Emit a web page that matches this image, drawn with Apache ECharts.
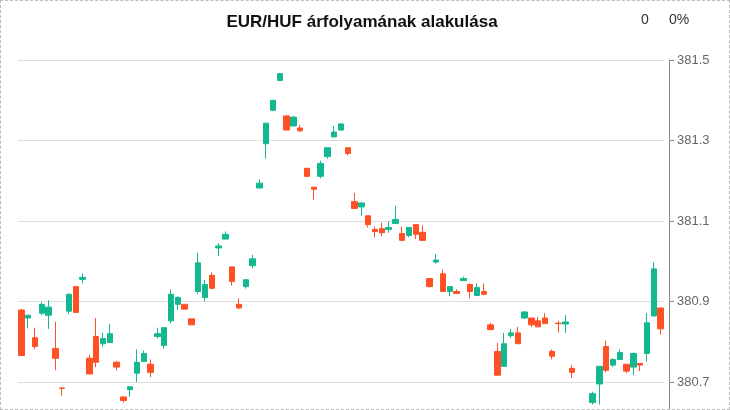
<!DOCTYPE html>
<html><head><meta charset="utf-8">
<script src="https://cdn.jsdelivr.net/npm/echarts@6/dist/echarts.min.js"></script>
<style>html,body{margin:0;padding:0;background:#fff;overflow:hidden}
#w{position:relative;width:728px;height:408px;overflow:hidden;border:1px dashed #bbb}
#c{position:absolute;left:-1px;top:-1px;width:730px;height:469px}</style>
</head><body><div id="w"><div id="c"></div></div>
<script>
const title = "EUR/HUF árfolyamának alakulása";
const yTicks = [380.7, 380.9, 381.1, 381.3, 381.5];
const openV = [380.879,380.859,380.810,380.871,380.866,380.783,380.685,380.876,380.937,380.955,
380.759,380.813,380.795,380.798,380.749,380.663,380.681,380.722,380.751,380.744,
380.813,380.791,380.852,380.893,380.893,380.857,380.925,380.910,380.965,381.033,
381.055,380.986,380.893,380.937,380.989,381.182,381.292,381.375,381.449,381.361,
381.336,381.331,381.231,381.184,381.211,381.260,381.309,381.326,381.282,381.148,
381.135,381.113,381.079,381.081,381.079,381.094,381.069,381.064,381.091,381.072,
380.957,380.998,380.969,380.925,380.925,380.952,380.942,380.915,380.925,380.842,
380.776,380.739,380.815,380.822,380.859,380.859,380.852,380.859,380.776,380.846,
380.844,380.734,'-','-',380.649,380.695,380.788,380.742,380.756,380.744,
380.737,380.746,380.771,380.864,380.884];
const closeV = [380.766,380.866,380.788,380.893,380.886,380.759,380.684,380.918,380.873,380.960,
380.720,380.749,380.808,380.820,380.737,380.654,380.688,380.749,380.771,380.724,
380.820,380.835,380.918,380.910,380.881,380.842,380.996,380.942,380.933,381.038,
381.067,380.950,380.884,380.954,381.006,381.194,381.343,381.400,381.466,381.326,
381.358,381.324,381.211,381.179,381.243,381.282,381.321,381.341,381.268,381.131,
381.145,381.091,381.074,381.071,381.084,381.104,381.052,381.084,381.067,381.052,
380.937,381.003,380.925,380.937,380.920,380.957,380.925,380.935,380.918,380.830,
380.717,380.795,380.822,380.795,380.874,380.842,380.837,380.845,380.764,380.845,
380.849,380.724,'-','-',380.671,380.739,380.729,380.756,380.773,380.727,
380.771,380.742,380.847,380.981,380.832];
const lowV = [380.766,380.833,380.781,380.866,380.832,380.729,380.666,380.869,380.873,380.945,
380.720,380.737,380.788,380.798,380.729,380.649,380.663,380.700,380.751,380.712,
380.808,380.783,380.845,380.879,380.881,380.842,380.918,380.901,380.930,381.013,
381.055,380.940,380.881,380.932,380.982,381.182,381.255,381.373,381.449,381.326,
381.336,381.321,381.209,381.153,381.206,381.255,381.309,381.326,381.263,381.131,
381.113,381.084,381.059,381.062,381.071,381.094,381.052,381.060,381.055,381.052,
380.935,380.994,380.925,380.913,380.920,380.952,380.908,380.915,380.915,380.830,
380.717,380.739,380.810,380.795,380.857,380.837,380.837,380.845,380.756,380.823,
380.822,380.710,'-','-',380.644,380.644,380.724,380.737,380.756,380.722,
380.717,380.727,380.751,380.864,380.818];
const highV = [380.881,380.866,380.835,380.898,380.903,380.849,380.687,380.920,380.937,380.969,
380.767,380.859,380.822,380.845,380.752,380.663,380.690,380.781,380.778,380.756,
380.835,380.835,380.930,380.913,380.893,380.857,381.021,380.954,380.972,381.045,
381.074,380.986,380.908,380.954,381.016,381.204,381.343,381.400,381.468,381.363,
381.361,381.339,381.231,381.184,381.250,381.282,381.336,381.343,381.282,381.170,
381.145,381.113,381.086,381.096,381.099,381.138,381.086,381.084,381.091,381.089,
380.957,381.018,380.979,380.937,380.930,380.962,380.945,380.945,380.945,380.847,
380.798,380.822,380.832,380.837,380.876,380.859,380.862,380.871,380.781,380.852,
380.866,380.742,'-','-',380.676,380.739,380.803,380.759,380.781,380.744,
380.773,380.746,380.871,380.998,380.884];
const categories = openV.map((_, i) => String(i + 1));

const data = openV.map((o, i) => o === '-' ? '-' : [o, closeV[i], lowV[i], highV[i]]);
const chart = echarts.init(document.getElementById('c'));
chart.setOption({
  animation: false,
  title: { text: title, left: 357, top: 9, textAlign: 'center',
    textStyle: { fontFamily: 'Liberation Sans, Arial', fontSize: 17, fontWeight: 'bold', color: '#111' } },
  graphic: [
    { type: 'text', left: 641, top: 13, style: { text: '0', font: '14px Liberation Sans, Arial', fill: '#333' } },
    { type: 'text', left: 669, top: 13, style: { text: '0%', font: '14px Liberation Sans, Arial', fill: '#333' } }
  ],
  grid: { left: 18, right: 66, top: 60, bottom: 0 },
  xAxis: { type: 'category', data: categories, show: false, boundaryGap: true },
  yAxis: { type: 'value', position: 'right', min: 380.5, max: 381.5, interval: 0.2, offset: 5,
    axisLine: { show: true, lineStyle: { color: '#888' } },
    axisTick: { show: true, length: 5, lineStyle: { color: '#888' } },
    axisLabel: { color: '#666', fontSize: 13, fontFamily: 'Liberation Sans, Arial', formatter: v => v.toFixed(1), margin: 8 },
    splitLine: { show: true, lineStyle: { color: '#ddd' } } },
  series: [{ type: 'candlestick', data: data, barWidth: 6,
    itemStyle: { color: '#14b890', color0: '#ff5026', borderColor: '#14b890', borderColor0: '#ff5026', borderWidth: 1 } }]
});
</script></body></html>
